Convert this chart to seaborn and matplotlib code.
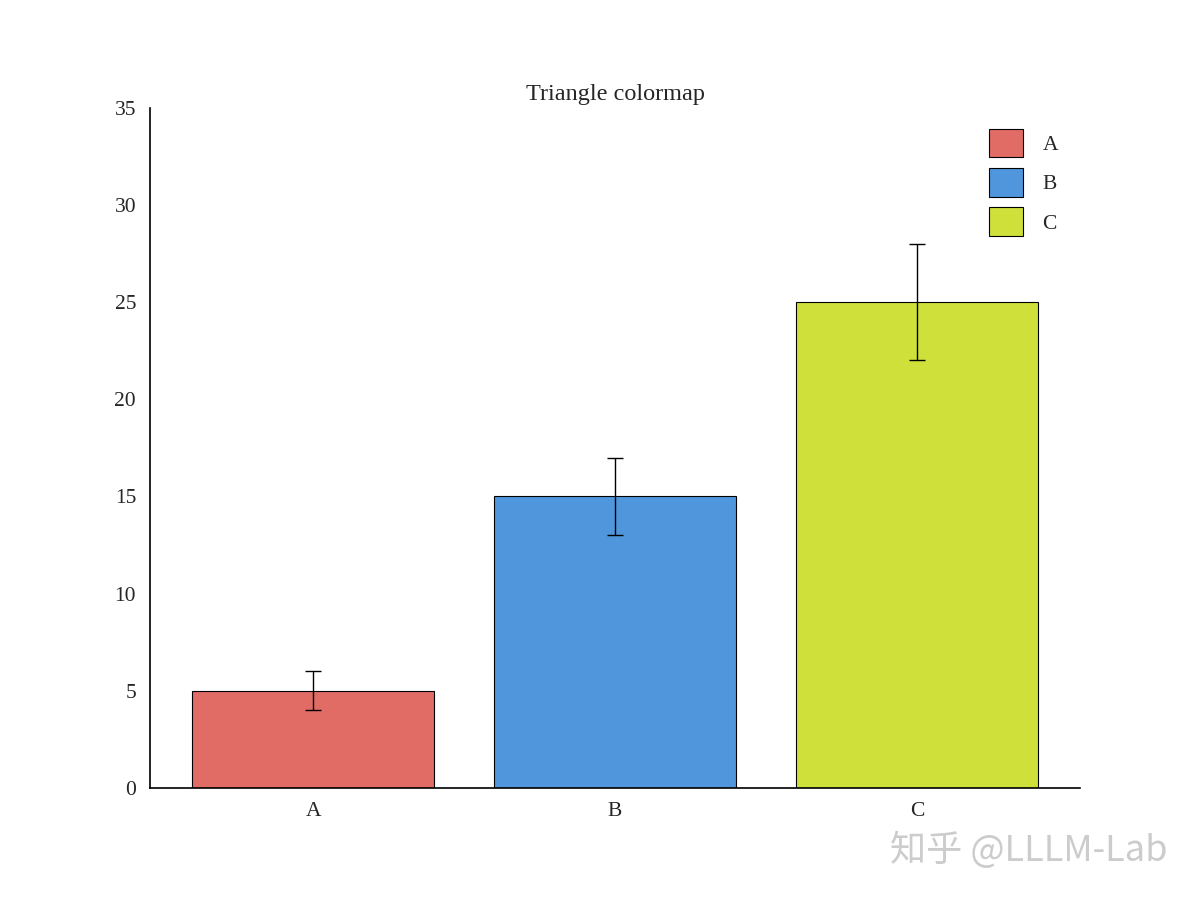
import matplotlib
matplotlib.use('Agg')
import matplotlib.pyplot as plt
import numpy as np
import pandas as pd
import seaborn as sns

categories = ['A', 'B', 'C']
values = [5, 15, 25]
errors = [1, 2, 3]
colors = ['#e06c65', '#5096dc', '#cfe03a']

df = pd.DataFrame({'cat': categories, 'val': values})

sns.set_style('white')
plt.rcParams['font.family'] = ['Liberation Serif', 'DejaVu Serif']

fig = plt.figure(figsize=(12, 9), dpi=100)
ax = fig.add_axes([0.125, 0.1244, 0.775, 0.756])

sns.barplot(x='cat', y='val', hue='cat', data=df, palette=colors,
            edgecolor='black', linewidth=0.8, width=0.8, errorbar=None,
            legend=False, ax=ax, saturation=1)
ax.errorbar(range(len(values)), values, yerr=errors, fmt='none',
            ecolor='black', elinewidth=1, capsize=6, capthick=1)

ax.set_ylim(0, 35)
ax.set_yticks(range(0, 36, 5))
ax.set_xlabel('')
ax.set_ylabel('')
ax.set_title('Triangle colormap', fontsize=17.5, pad=5.5)
ax.tick_params(labelsize=15.5, length=0, pad=10)
sns.despine(ax=ax)
for s in ['left', 'bottom']:
    ax.spines[s].set_color('black')
    ax.spines[s].set_linewidth(1.2)

handles = [plt.Rectangle((0, 0), 1, 1, facecolor=c, edgecolor='black', linewidth=0.8)
           for c in colors]
ax.legend(handles, categories, frameon=False, fontsize=15.5, loc='upper right',
          handlelength=1.6, handleheight=1.65, handletextpad=0.9,
          labelspacing=0.5, bbox_to_anchor=(0.997, 0.997))

fig.text(0.973, 0.055, '知乎 @LLLM-Lab', ha='right', va='center', fontsize=26,
         color='#cccccc', family=['Noto Sans CJK SC', 'DejaVu Sans'])

fig.savefig('out.png', dpi=100)
